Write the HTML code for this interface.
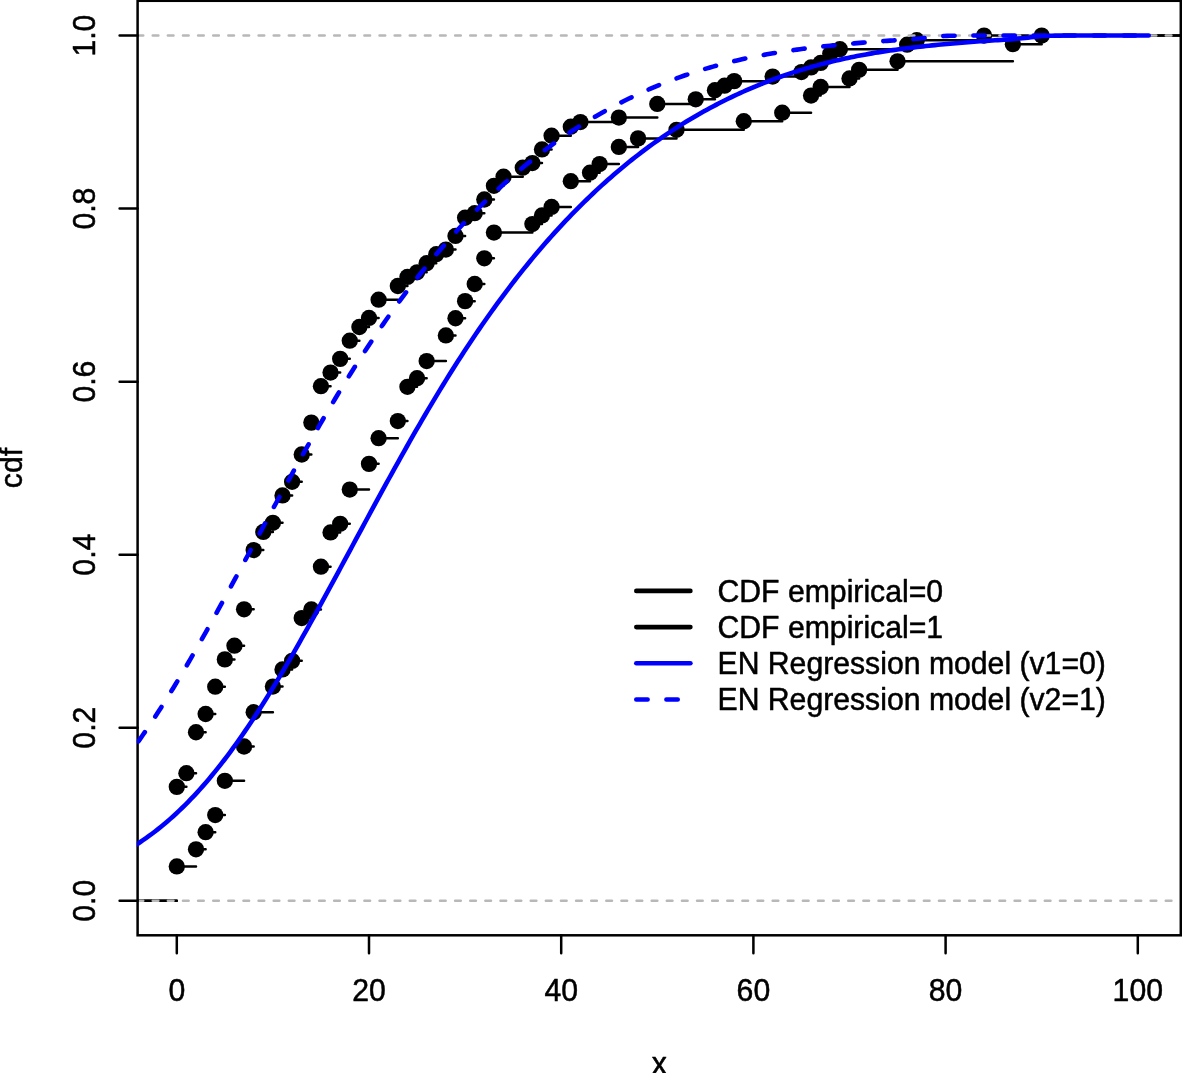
<!DOCTYPE html>
<html lang="en"><head><meta charset="utf-8"><title>cdf</title>
<style>html,body{margin:0;padding:0;background:#fff}svg{display:block}</style></head>
<body>
<svg width="1182" height="1073" viewBox="0 0 1182 1073" font-family="'Liberation Sans', Arial, Helvetica, sans-serif" font-size="30.2" fill="#000">
<rect width="1182" height="1073" fill="#fff"/>
<defs><clipPath id="c"><rect x="137.6" y="0.8" width="1043.2" height="934.5"/></clipPath><clipPath id="c2"><rect x="136.8" y="0.8" width="1044" height="934.5"/></clipPath></defs>
<g clip-path="url(#c)">
<path d="M137.6 900.7H176.8 M176.8 786.87H186.41 M186.41 773.21H196.02 M196.02 732.23H205.63 M205.63 714.02H215.24 M215.24 686.7H224.85 M224.85 659.38H234.46 M234.46 645.72H244.07 M244.07 609.3H253.68 M253.68 550.11H263.29 M263.29 531.89H272.9 M272.9 522.79H282.51 M282.51 495.47H292.12 M292.12 481.81H301.73 M301.73 454.49H311.34 M311.34 422.62H320.95 M320.95 386.19H330.56 M330.56 372.53H340.17 M340.17 358.87H349.78 M349.78 340.66H359.39 M359.39 327H369 M369 317.9H378.61 M378.61 299.68H397.83 M397.83 286.02H407.44 M407.44 276.92H417.05 M417.05 272.36H426.66 M426.66 263.26H436.27 M436.27 254.15H445.88 M445.88 249.6H455.49 M455.49 235.94H465.1 M465.1 217.73H474.71 M474.71 213.17H484.32 M484.32 199.51H493.93 M493.93 185.85H503.54 M503.54 176.75H522.76 M522.76 167.64H532.37 M532.37 163.09H541.98 M541.98 149.43H551.59 M551.59 135.77H570.81 M570.81 126.66H580.42 M580.42 122.11H618.86 M618.86 117.56H657.3 M657.3 103.9H695.74 M695.74 99.34H714.96 M714.96 90.24H724.57 M724.57 85.68H734.18 M734.18 81.13H772.62 M772.62 76.58H801.45 M801.45 72.03H811.06 M811.06 67.47H820.67 M820.67 62.92H830.28 M830.28 53.81H839.89 M839.89 49.26H907.16 M907.16 44.71H916.77 M916.77 40.15H984.04 M984.04 35.6H1180.8" fill="none" stroke="#000" stroke-width="2.5" stroke-linecap="round"/>
<circle cx="176.8" cy="786.87" r="8.15"/>
<circle cx="186.41" cy="773.21" r="8.15"/>
<circle cx="196.02" cy="732.23" r="8.15"/>
<circle cx="205.63" cy="714.02" r="8.15"/>
<circle cx="215.24" cy="686.7" r="8.15"/>
<circle cx="224.85" cy="659.38" r="8.15"/>
<circle cx="234.46" cy="645.72" r="8.15"/>
<circle cx="244.07" cy="609.3" r="8.15"/>
<circle cx="253.68" cy="550.11" r="8.15"/>
<circle cx="263.29" cy="531.89" r="8.15"/>
<circle cx="272.9" cy="522.79" r="8.15"/>
<circle cx="282.51" cy="495.47" r="8.15"/>
<circle cx="292.12" cy="481.81" r="8.15"/>
<circle cx="301.73" cy="454.49" r="8.15"/>
<circle cx="311.34" cy="422.62" r="8.15"/>
<circle cx="320.95" cy="386.19" r="8.15"/>
<circle cx="330.56" cy="372.53" r="8.15"/>
<circle cx="340.17" cy="358.87" r="8.15"/>
<circle cx="349.78" cy="340.66" r="8.15"/>
<circle cx="359.39" cy="327" r="8.15"/>
<circle cx="369" cy="317.9" r="8.15"/>
<circle cx="378.61" cy="299.68" r="8.15"/>
<circle cx="397.83" cy="286.02" r="8.15"/>
<circle cx="407.44" cy="276.92" r="8.15"/>
<circle cx="417.05" cy="272.36" r="8.15"/>
<circle cx="426.66" cy="263.26" r="8.15"/>
<circle cx="436.27" cy="254.15" r="8.15"/>
<circle cx="445.88" cy="249.6" r="8.15"/>
<circle cx="455.49" cy="235.94" r="8.15"/>
<circle cx="465.1" cy="217.73" r="8.15"/>
<circle cx="474.71" cy="213.17" r="8.15"/>
<circle cx="484.32" cy="199.51" r="8.15"/>
<circle cx="493.93" cy="185.85" r="8.15"/>
<circle cx="503.54" cy="176.75" r="8.15"/>
<circle cx="522.76" cy="167.64" r="8.15"/>
<circle cx="532.37" cy="163.09" r="8.15"/>
<circle cx="541.98" cy="149.43" r="8.15"/>
<circle cx="551.59" cy="135.77" r="8.15"/>
<circle cx="570.81" cy="126.66" r="8.15"/>
<circle cx="580.42" cy="122.11" r="8.15"/>
<circle cx="618.86" cy="117.56" r="8.15"/>
<circle cx="657.3" cy="103.9" r="8.15"/>
<circle cx="695.74" cy="99.34" r="8.15"/>
<circle cx="714.96" cy="90.24" r="8.15"/>
<circle cx="724.57" cy="85.68" r="8.15"/>
<circle cx="734.18" cy="81.13" r="8.15"/>
<circle cx="772.62" cy="76.58" r="8.15"/>
<circle cx="801.45" cy="72.03" r="8.15"/>
<circle cx="811.06" cy="67.47" r="8.15"/>
<circle cx="820.67" cy="62.92" r="8.15"/>
<circle cx="830.28" cy="53.81" r="8.15"/>
<circle cx="839.89" cy="49.26" r="8.15"/>
<circle cx="907.16" cy="44.71" r="8.15"/>
<circle cx="916.77" cy="40.15" r="8.15"/>
<circle cx="984.04" cy="35.6" r="8.15"/>
<path d="M137.6 900.7H176.8 M176.8 866.44H196.02 M196.02 849.31H205.63 M205.63 832.18H215.24 M215.24 815.05H224.85 M224.85 780.79H244.07 M244.07 746.52H253.68 M253.68 712.26H272.9 M272.9 686.57H282.51 M282.51 669.44H292.12 M292.12 660.87H301.73 M301.73 618.04H311.34 M311.34 609.48H320.95 M320.95 566.65H330.56 M330.56 532.39H340.17 M340.17 523.82H349.78 M349.78 489.56H369 M369 463.87H378.61 M378.61 438.17H397.83 M397.83 421.04H407.44 M407.44 386.78H417.05 M417.05 378.21H426.66 M426.66 361.08H445.88 M445.88 335.39H455.49 M455.49 318.26H465.1 M465.1 301.13H474.71 M474.71 284H484.32 M484.32 258.3H493.93 M493.93 232.6H532.37 M532.37 224.04H541.98 M541.98 215.47H551.59 M551.59 206.91H570.81 M570.81 181.21H590.03 M590.03 172.65H599.64 M599.64 164.08H618.86 M618.86 146.95H638.08 M638.08 138.38H676.52 M676.52 129.82H743.79 M743.79 121.25H782.23 M782.23 112.69H811.06 M811.06 95.56H820.67 M820.67 86.99H849.5 M849.5 78.43H859.11 M859.11 69.86H897.55 M897.55 61.3H1012.87 M1012.87 44.17H1041.7 M1041.7 35.6H1180.8" fill="none" stroke="#000" stroke-width="2.5" stroke-linecap="round"/>
<circle cx="176.8" cy="866.44" r="8.15"/>
<circle cx="196.02" cy="849.31" r="8.15"/>
<circle cx="205.63" cy="832.18" r="8.15"/>
<circle cx="215.24" cy="815.05" r="8.15"/>
<circle cx="224.85" cy="780.79" r="8.15"/>
<circle cx="244.07" cy="746.52" r="8.15"/>
<circle cx="253.68" cy="712.26" r="8.15"/>
<circle cx="272.9" cy="686.57" r="8.15"/>
<circle cx="282.51" cy="669.44" r="8.15"/>
<circle cx="292.12" cy="660.87" r="8.15"/>
<circle cx="301.73" cy="618.04" r="8.15"/>
<circle cx="311.34" cy="609.48" r="8.15"/>
<circle cx="320.95" cy="566.65" r="8.15"/>
<circle cx="330.56" cy="532.39" r="8.15"/>
<circle cx="340.17" cy="523.82" r="8.15"/>
<circle cx="349.78" cy="489.56" r="8.15"/>
<circle cx="369" cy="463.87" r="8.15"/>
<circle cx="378.61" cy="438.17" r="8.15"/>
<circle cx="397.83" cy="421.04" r="8.15"/>
<circle cx="407.44" cy="386.78" r="8.15"/>
<circle cx="417.05" cy="378.21" r="8.15"/>
<circle cx="426.66" cy="361.08" r="8.15"/>
<circle cx="445.88" cy="335.39" r="8.15"/>
<circle cx="455.49" cy="318.26" r="8.15"/>
<circle cx="465.1" cy="301.13" r="8.15"/>
<circle cx="474.71" cy="284" r="8.15"/>
<circle cx="484.32" cy="258.3" r="8.15"/>
<circle cx="493.93" cy="232.6" r="8.15"/>
<circle cx="532.37" cy="224.04" r="8.15"/>
<circle cx="541.98" cy="215.47" r="8.15"/>
<circle cx="551.59" cy="206.91" r="8.15"/>
<circle cx="570.81" cy="181.21" r="8.15"/>
<circle cx="590.03" cy="172.65" r="8.15"/>
<circle cx="599.64" cy="164.08" r="8.15"/>
<circle cx="618.86" cy="146.95" r="8.15"/>
<circle cx="638.08" cy="138.38" r="8.15"/>
<circle cx="676.52" cy="129.82" r="8.15"/>
<circle cx="743.79" cy="121.25" r="8.15"/>
<circle cx="782.23" cy="112.69" r="8.15"/>
<circle cx="811.06" cy="95.56" r="8.15"/>
<circle cx="820.67" cy="86.99" r="8.15"/>
<circle cx="849.5" cy="78.43" r="8.15"/>
<circle cx="859.11" cy="69.86" r="8.15"/>
<circle cx="897.55" cy="61.3" r="8.15"/>
<circle cx="1012.87" cy="44.17" r="8.15"/>
<circle cx="1041.7" cy="35.6" r="8.15"/>
<path d="M137.6 900.7H1180.8" fill="none" stroke="#b8b8b8" stroke-width="2.5" stroke-linecap="round" stroke-dasharray="5.67 9.45"/><path d="M137.6 35.6H1180.8" fill="none" stroke="#b8b8b8" stroke-width="2.5" stroke-linecap="round" stroke-dasharray="5.67 9.45"/>
</g>
<rect x="137.6" y="0.8" width="1043.2" height="934.5" fill="none" stroke="#000" stroke-width="2.5"/>
<g clip-path="url(#c2)">
<path d="M134 846.13 L137 844.22 L140 842.25 L143 840.22 L146 838.13 L149 835.98 L152 833.77 L155 831.49 L158 829.15 L161 826.74 L164 824.27 L167 821.74 L170 819.13 L173 816.46 L176 813.72 L179 810.91 L182 808.03 L185 805.08 L188 802.06 L191 798.96 L194 795.8 L197 792.57 L200 789.26 L203 785.88 L206 782.43 L209 778.91 L212 775.31 L215 771.65 L218 767.91 L221 764.1 L224 760.22 L227 756.28 L230 752.26 L233 748.17 L236 744.02 L239 739.8 L242 735.51 L245 731.16 L248 726.74 L251 722.26 L254 717.72 L257 713.12 L260 708.46 L263 703.74 L266 698.97 L269 694.14 L272 689.26 L275 684.33 L278 679.34 L281 674.32 L284 669.24 L287 664.13 L290 658.97 L293 653.78 L296 648.55 L299 643.28 L302 637.98 L305 632.65 L308 627.3 L311 621.91 L314 616.51 L317 611.08 L320 605.62 L323 600.15 L326 594.66 L329 589.16 L332 583.64 L335 578.11 L338 572.57 L341 567.02 L344 561.46 L347 555.9 L350 550.34 L353 544.77 L356 539.21 L359 533.64 L362 528.08 L365 522.53 L368 516.98 L371 511.44 L374 505.92 L377 500.4 L380 494.9 L383 489.41 L386 483.94 L389 478.49 L392 473.06 L395 467.65 L398 462.26 L401 456.9 L404 451.56 L407 446.25 L410 440.96 L413 435.71 L416 430.48 L419 425.29 L422 420.13 L425 415 L428 409.91 L431 404.85 L434 399.83 L437 394.85 L440 389.9 L443 385 L446 380.13 L449 375.31 L452 370.52 L455 365.78 L458 361.08 L461 356.43 L464 351.82 L467 347.25 L470 342.72 L473 338.23 L476 333.79 L479 329.4 L482 325.04 L485 320.73 L488 316.47 L491 312.24 L494 308.06 L497 303.93 L500 299.83 L503 295.78 L506 291.78 L509 287.81 L512 283.89 L515 280.02 L518 276.18 L521 272.39 L524 268.64 L527 264.93 L530 261.26 L533 257.64 L536 254.05 L539 250.51 L542 247.01 L545 243.55 L548 240.13 L551 236.75 L554 233.41 L557 230.11 L560 226.85 L563 223.63 L566 220.44 L569 217.3 L572 214.19 L575 211.13 L578 208.09 L581 205.1 L584 202.15 L587 199.23 L590 196.34 L593 193.5 L596 190.69 L599 187.91 L602 185.17 L605 182.47 L608 179.8 L611 177.16 L614 174.56 L617 171.99 L620 169.46 L623 166.96 L626 164.49 L629 162.06 L632 159.66 L635 157.29 L638 154.96 L641 152.66 L644 150.39 L647 148.15 L650 145.94 L653 143.76 L656 141.62 L659 139.51 L662 137.42 L665 135.37 L668 133.34 L671 131.35 L674 129.39 L677 127.45 L680 125.55 L683 123.67 L686 121.82 L689 120 L692 118.21 L695 116.44 L698 114.71 L701 113 L704 111.31 L707 109.66 L710 108.03 L713 106.42 L716 104.84 L719 103.29 L722 101.77 L725 100.26 L728 98.79 L731 97.33 L734 95.91 L737 94.5 L740 93.12 L743 91.77 L746 90.44 L749 89.13 L752 87.84 L755 86.58 L758 85.34 L761 84.12 L764 82.92 L767 81.75 L770 80.6 L773 79.47 L776 78.37 L779 77.28 L782 76.22 L785 75.18 L788 74.16 L791 73.16 L794 72.18 L797 71.23 L800 70.29 L803 69.38 L806 68.48 L809 67.61 L812 66.75 L815 65.91 L818 65.1 L821 64.3 L824 63.52 L827 62.76 L830 62.01 L833 61.29 L836 60.58 L839 59.89 L842 59.22 L845 58.56 L848 57.92 L851 57.3 L854 56.69 L857 56.1 L860 55.52 L863 54.96 L866 54.41 L869 53.88 L872 53.36 L875 52.85 L878 52.36 L881 51.88 L884 51.42 L887 50.97 L890 50.53 L893 50.1 L896 49.68 L899 49.27 L902 48.88 L905 48.49 L908 48.11 L911 47.75 L914 47.39 L917 47.04 L920 46.69 L923 46.36 L926 46.04 L929 45.72 L932 45.41 L935 45.11 L938 44.81 L941 44.52 L944 44.24 L947 43.96 L950 43.69 L953 43.43 L956 43.17 L959 42.92 L962 42.67 L965 42.43 L968 42.2 L971 41.97 L974 41.74 L977 41.52 L980 41.31 L983 41.1 L986 40.9 L989 40.7 L992 40.5 L995 40.32 L998 40.13 L1001 39.95 L1004 39.79 L1007 39.59 L1010 39.35 L1013 39.09 L1016 38.81 L1019 38.51 L1022 38.2 L1025 37.9 L1028 37.59 L1031 37.3 L1034 36.97 L1037 36.62 L1040 36.3 L1043 36.05 L1046 35.91 L1049 35.81 L1052 35.73 L1055 35.67 L1058 35.62 L1061 35.59 L1064 35.57 L1067 35.55 L1070 35.53 L1073 35.51 L1076 35.5 L1079 35.5 L1082 35.5 L1085 35.5 L1088 35.5 L1091 35.5 L1094 35.5 L1097 35.5 L1100 35.5 L1103 35.5 L1106 35.5 L1109 35.5 L1112 35.5 L1115 35.5 L1118 35.5 L1121 35.5 L1124 35.5 L1127 35.5 L1130 35.5 L1133 35.5 L1136 35.5 L1139 35.5 L1142 35.5 L1145 35.5 L1148 35.5 L1148.7 35.5" fill="none" stroke="#0000ff" stroke-width="4.6" stroke-linecap="round" stroke-linejoin="round"/>
<path d="M134 747.49 L137 743.32 L140 739.09 L143 734.79 L146 730.43 L149 726 L152 721.51 L155 716.96 L158 712.35 L161 707.67 L164 702.95 L167 698.16 L170 693.33 L173 688.44 L176 683.5 L179 678.51 L182 673.48 L185 668.39 L188 663.27 L191 658.11 L194 652.91 L197 647.67 L200 642.4 L203 637.1 L206 631.76 L209 626.4 L212 621.02 L215 615.6 L218 610.17 L221 604.71 L224 599.24 L227 593.75 L230 588.24 L233 582.72 L236 577.19 L239 571.64 L242 566.09 L245 560.54 L248 554.97 L251 549.41 L254 543.84 L257 538.28 L260 532.72 L263 527.16 L266 521.6 L269 516.06 L272 510.52 L275 505 L278 499.48 L281 493.98 L284 488.5 L287 483.03 L290 477.59 L293 472.16 L296 466.75 L299 461.37 L302 456.01 L305 450.67 L308 445.37 L311 440.09 L314 434.84 L317 429.62 L320 424.43 L323 419.27 L326 414.15 L329 409.06 L332 404.01 L335 399 L338 394.02 L341 389.08 L344 384.18 L347 379.32 L350 374.51 L353 369.73 L356 365 L359 360.31 L362 355.66 L365 351.05 L368 346.49 L371 341.97 L374 337.49 L377 333.06 L380 328.67 L383 324.32 L386 320.02 L389 315.76 L392 311.54 L395 307.37 L398 303.24 L401 299.16 L404 295.11 L407 291.11 L410 287.16 L413 283.24 L416 279.37 L419 275.54 L422 271.76 L425 268.02 L428 264.31 L431 260.65 L434 257.04 L437 253.46 L440 249.92 L443 246.43 L446 242.98 L449 239.56 L452 236.19 L455 232.86 L458 229.56 L461 226.31 L464 223.09 L467 219.92 L470 216.78 L473 213.68 L476 210.62 L479 207.59 L482 204.61 L485 201.66 L488 198.74 L491 195.87 L494 193.03 L497 190.22 L500 187.45 L503 184.72 L506 182.02 L509 179.35 L512 176.72 L515 174.13 L518 171.57 L521 169.04 L524 166.55 L527 164.09 L530 161.66 L533 159.26 L536 156.9 L539 154.57 L542 152.28 L545 150.01 L548 147.78 L551 145.57 L554 143.4 L557 141.26 L560 139.16 L563 137.08 L566 135.03 L569 133.01 L572 131.02 L575 129.06 L578 127.13 L581 125.23 L584 123.36 L587 121.52 L590 119.7 L593 117.91 L596 116.15 L599 114.42 L602 112.71 L605 111.03 L608 109.38 L611 107.76 L614 106.16 L617 104.58 L620 103.04 L623 101.51 L626 100.02 L629 98.54 L632 97.1 L635 95.67 L638 94.27 L641 92.9 L644 91.55 L647 90.22 L650 88.91 L653 87.63 L656 86.37 L659 85.13 L662 83.92 L665 82.73 L668 81.56 L671 80.41 L674 79.29 L677 78.18 L680 77.1 L683 76.04 L686 75.01 L689 73.99 L692 73 L695 72.02 L698 71.07 L701 70.14 L704 69.23 L707 68.33 L710 67.46 L713 66.61 L716 65.78 L719 64.96 L722 64.17 L725 63.39 L728 62.63 L731 61.89 L734 61.17 L737 60.47 L740 59.78 L743 59.11 L746 58.45 L749 57.82 L752 57.2 L755 56.59 L758 56 L761 55.43 L764 54.87 L767 54.32 L770 53.79 L773 53.27 L776 52.77 L779 52.28 L782 51.81 L785 51.34 L788 50.89 L791 50.45 L794 50.03 L797 49.61 L800 49.21 L803 48.81 L806 48.43 L809 48.05 L812 47.68 L815 47.33 L818 46.98 L821 46.64 L824 46.31 L827 45.98 L830 45.67 L833 45.36 L836 45.06 L839 44.76 L842 44.47 L845 44.19 L848 43.92 L851 43.65 L854 43.38 L857 43.13 L860 42.88 L863 42.63 L866 42.39 L869 42.16 L872 41.93 L875 41.71 L878 41.49 L881 41.28 L884 41.07 L887 40.86 L890 40.67 L893 40.47 L896 40.28 L899 40.1 L902 39.92 L905 39.76 L908 39.55 L911 39.31 L914 39.05 L917 38.76 L920 38.46 L923 38.15 L926 37.85 L929 37.55 L932 37.25 L935 36.91 L938 36.57 L941 36.26 L944 36.02 L947 35.9 L950 35.8 L953 35.72 L956 35.66 L959 35.62 L962 35.59 L965 35.56 L968 35.54 L971 35.53 L974 35.51 L977 35.5 L980 35.5 L983 35.5 L986 35.5 L989 35.5 L992 35.5 L995 35.5 L998 35.5 L1001 35.5 L1004 35.5 L1007 35.5 L1010 35.5 L1013 35.5 L1016 35.5 L1019 35.5 L1022 35.5 L1025 35.5 L1028 35.5 L1031 35.5 L1034 35.5 L1037 35.5 L1040 35.5 L1043 35.5 L1046 35.5 L1049 35.5 L1052 35.5 L1055 35.5 L1058 35.5 L1061 35.5 L1064 35.5 L1067 35.5 L1070 35.5 L1073 35.5 L1076 35.5 L1079 35.5 L1082 35.5 L1085 35.5 L1088 35.5 L1091 35.5 L1094 35.5 L1097 35.5 L1100 35.5 L1103 35.5 L1106 35.5 L1109 35.5 L1112 35.5 L1115 35.5 L1118 35.5 L1121 35.5 L1124 35.5 L1127 35.5 L1130 35.5 L1133 35.5 L1136 35.5 L1139 35.5 L1142 35.5 L1145 35.5 L1148 35.5 L1148.7 35.5" fill="none" stroke="#0000ff" stroke-width="4.6" stroke-linecap="round" stroke-linejoin="round" stroke-dasharray="11.3 18.81" stroke-dashoffset="-7.5"/>
</g>
<path d="M176.8 935.3V953.3 M369 935.3V953.3 M561.2 935.3V953.3 M753.4 935.3V953.3 M945.6 935.3V953.3 M1137.8 935.3V953.3 M137.6 900.7H119.6 M137.6 727.68H119.6 M137.6 554.66H119.6 M137.6 381.64H119.6 M137.6 208.62H119.6 M137.6 35.6H119.6" fill="none" stroke="#000" stroke-width="2.5" stroke-linecap="round"/>
<g stroke="#000" stroke-width="0.5" stroke-linejoin="round">
<text transform="translate(176.8 1001.2) scale(1 1.03)" text-anchor="middle">0</text>
<text transform="translate(369 1001.2) scale(1 1.03)" text-anchor="middle">20</text>
<text transform="translate(561.2 1001.2) scale(1 1.03)" text-anchor="middle">40</text>
<text transform="translate(753.4 1001.2) scale(1 1.03)" text-anchor="middle">60</text>
<text transform="translate(945.6 1001.2) scale(1 1.03)" text-anchor="middle">80</text>
<text transform="translate(1137.8 1001.2) scale(1 1.03)" text-anchor="middle">100</text>
<text transform="translate(94.7 900.7) rotate(-90) scale(1 1.03)" text-anchor="middle">0.0</text>
<text transform="translate(94.7 727.68) rotate(-90) scale(1 1.03)" text-anchor="middle">0.2</text>
<text transform="translate(94.7 554.66) rotate(-90) scale(1 1.03)" text-anchor="middle">0.4</text>
<text transform="translate(94.7 381.64) rotate(-90) scale(1 1.03)" text-anchor="middle">0.6</text>
<text transform="translate(94.7 208.62) rotate(-90) scale(1 1.03)" text-anchor="middle">0.8</text>
<text transform="translate(94.7 35.6) rotate(-90) scale(1 1.03)" text-anchor="middle">1.0</text>
<text transform="translate(659.2 1073.5) scale(1 1.03)" text-anchor="middle">x</text>
<text transform="translate(22.1 468.05) rotate(-90) scale(1 1.03)" text-anchor="middle">cdf</text>
<path d="M636.3 590.9H690.4" fill="none" stroke="#000" stroke-width="4.6" stroke-linecap="round"/>
<text transform="translate(717.5 602) scale(1 1.03)">CDF empirical=0</text>
<path d="M636.3 627.1H690.4" fill="none" stroke="#000" stroke-width="4.6" stroke-linecap="round"/>
<text transform="translate(717.5 638) scale(1 1.03)">CDF empirical=1</text>
<path d="M636.3 663.3H690.4" fill="none" stroke="#0000ff" stroke-width="4.6" stroke-linecap="round"/>
<text transform="translate(717.5 674) scale(1 1.03)">EN Regression model (v1=0)</text>
<path d="M636.3 699.5H690.4" fill="none" stroke="#0000ff" stroke-width="4.6" stroke-linecap="round" stroke-dasharray="11.3 18.81"/>
<text transform="translate(717.5 710) scale(1 1.03)">EN Regression model (v2=1)</text>
</g>
</svg>
</body></html>
